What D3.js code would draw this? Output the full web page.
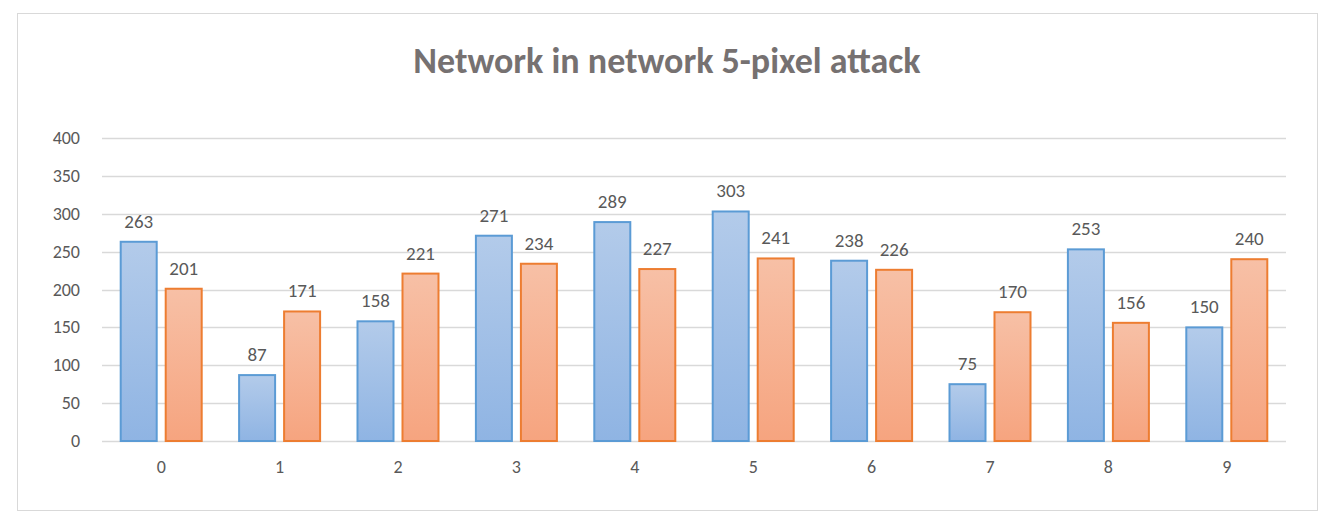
<!DOCTYPE html>
<html><head><meta charset="utf-8">
<script src="https://cdn.jsdelivr.net/npm/d3@7"></script>
<style>body{margin:0;background:#fff}text{font-family:Calibri,Carlito,"Open Sans",sans-serif}</style>
</head><body><svg id="chart" width="1332" height="525"></svg>
<script>
// Data
const categories = ["0","1","2","3","4","5","6","7","8","9"];
const seriesA = [263, 87, 158, 271, 289, 303, 238, 75, 253, 150];
const seriesB = [201, 171, 221, 234, 227, 241, 226, 170, 156, 240];
const yTicks = [0, 50, 100, 150, 200, 250, 300, 350, 400];

const svg = d3.select("#chart");
svg.append("rect").attr("x", 17.5).attr("y", 13.5).attr("width", 1300).attr("height", 497)
  .attr("fill", "#fff").attr("stroke", "#d9d9d9");

const defs = svg.append("defs");
function grad(id, top, bottom) {
  const g = defs.append("linearGradient").attr("id", id).attr("x1", 0).attr("y1", 0).attr("x2", 0).attr("y2", 1);
  g.append("stop").attr("offset", "0%").attr("stop-color", top);
  g.append("stop").attr("offset", "100%").attr("stop-color", bottom);
}
grad("gA", "#b3cbea", "#8fb4e3");
grad("gB", "#f7c0a6", "#f6a47f");

const x = d3.scaleBand().domain(categories).range([102, 1286]);
const y = d3.scaleLinear().domain([0, 400]).range([441, 138]);

// gridlines + y labels
svg.selectAll(".grid").data(yTicks).join("line")
  .attr("x1", 102).attr("x2", 1286)
  .attr("y1", d => Math.round(y(d)) + 0.5).attr("y2", d => Math.round(y(d)) + 0.5)
  .attr("stroke", "#d9d9d9").attr("stroke-width", 1.3);
svg.selectAll(".yl").data(yTicks).join("text")
  .attr("x", 80).attr("y", d => y(d) + 6).attr("text-anchor", "end")
  .attr("font-size", 18).attr("fill", "#595959").text(d => d);

// x labels
svg.selectAll(".xl").data(categories).join("text")
  .attr("x", d => x(d) + x.bandwidth() / 2).attr("y", 473).attr("text-anchor", "middle")
  .attr("font-size", 18).attr("fill", "#595959").text(d => d);

const bw = 36, gap = 9;
function drawSeries(vals, offset, fill, stroke) {
  const g = svg.append("g");
  g.selectAll("rect").data(vals).join("rect")
    .attr("x", (d, i) => x(categories[i]) + x.bandwidth() / 2 + offset)
    .attr("y", d => y(d)).attr("width", bw).attr("height", d => y(0) - y(d))
    .attr("fill", fill).attr("stroke", stroke).attr("stroke-width", 2);
  g.selectAll("text").data(vals).join("text")
    .attr("x", (d, i) => x(categories[i]) + x.bandwidth() / 2 + offset + bw / 2)
    .attr("y", d => y(d) - 14).attr("text-anchor", "middle")
    .attr("font-size", 19).attr("fill", "#595959").text(d => d);
}
drawSeries(seriesA, -bw - gap / 2, "url(#gA)", "#5b9bd5");
drawSeries(seriesB, gap / 2, "url(#gB)", "#ed7d31");

svg.append("text").attr("x", 667).attr("y", 73).attr("text-anchor", "middle")
  .attr("font-size", 36).attr("font-weight", "bold").attr("fill", "#767171")
  .text("Network in network 5-pixel attack");
</script></body></html>
